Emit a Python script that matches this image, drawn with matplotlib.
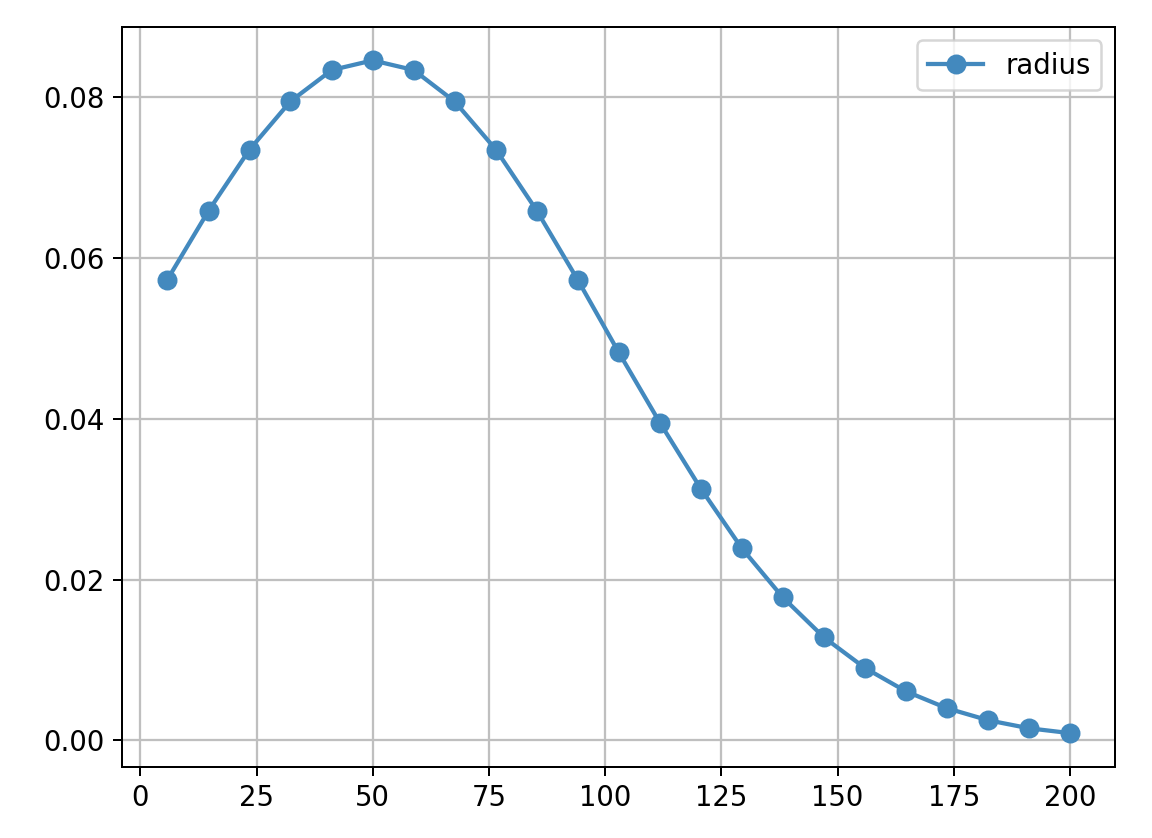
import matplotlib
matplotlib.use("Agg")
import matplotlib.pyplot as plt

# values
x = [5.8, 14.7, 23.5, 32.3, 41.2, 50.0, 58.8, 67.6, 76.5, 85.3, 94.1,
     102.9, 111.8, 120.6, 129.4, 138.2, 147.1, 155.9, 164.7, 173.5,
     182.4, 191.2, 200.0]
radius = [0.0573, 0.0659, 0.0735, 0.0795, 0.0834, 0.0846, 0.0834, 0.0795,
          0.0735, 0.0659, 0.0573, 0.0483, 0.0395, 0.0313, 0.0239, 0.0178,
          0.0128, 0.0090, 0.0061, 0.0040, 0.0025, 0.0015, 0.0009]

plt.rcParams['font.size'] = 11

fig, ax = plt.subplots(figsize=(6.4, 4.656), dpi=180)
ax.plot(x, radius, color='#4389be', marker='o', linestyle='-', markersize=7,
        linewidth=1.7, label='radius')
ax.grid(color='#bfbfbf', linewidth=0.9)
ax.set_axisbelow(True)
ax.legend(loc='upper right')
fig.subplots_adjust(left=0.106, right=0.968, bottom=0.085, top=0.968)
fig.savefig('out.png')
